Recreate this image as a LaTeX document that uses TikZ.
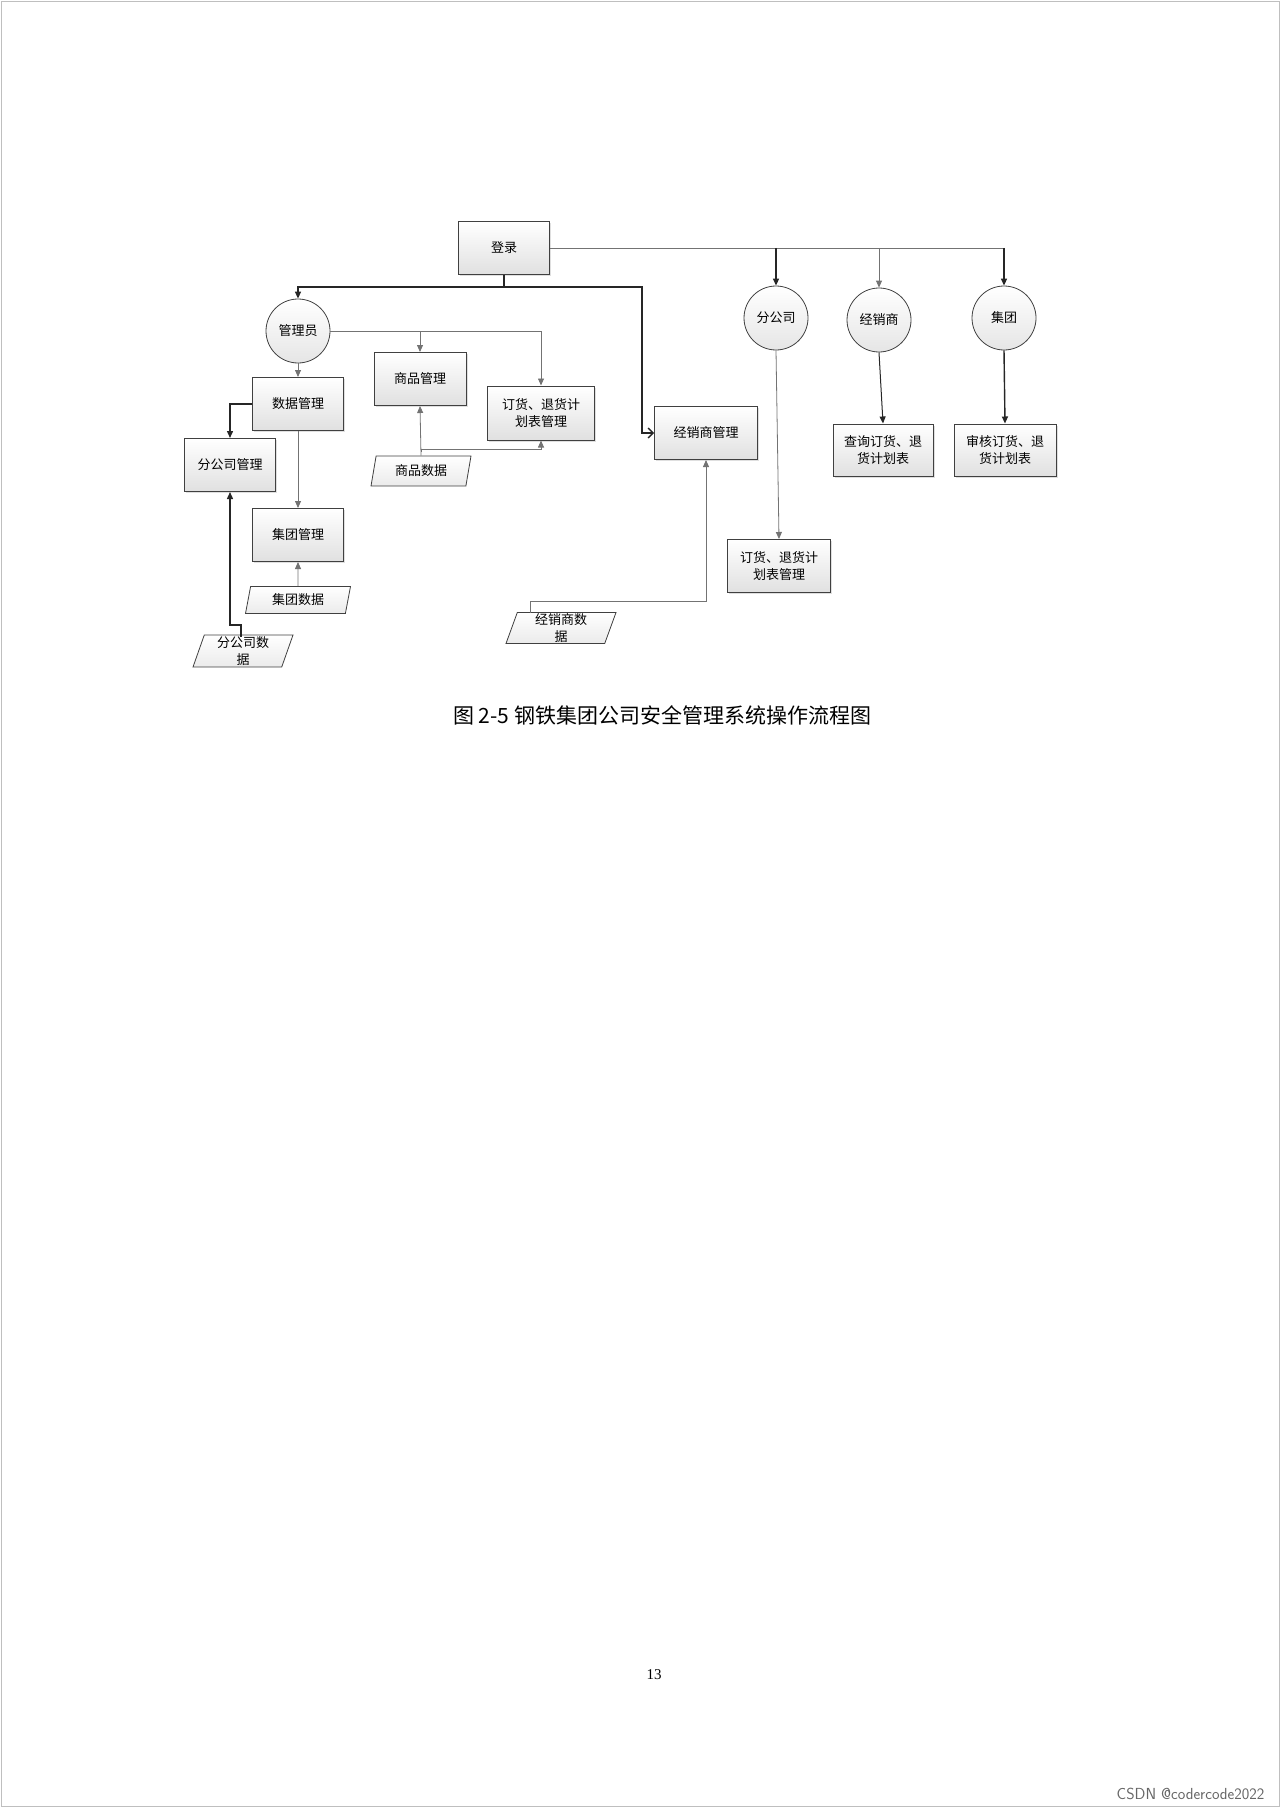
\documentclass[tikz,border=0pt]{standalone}
\usepackage{fontspec}
\setmainfont{Liberation Serif}
\newfontfamily\cjk{Noto Sans CJK SC}
\usetikzlibrary{arrows.meta,shapes.geometric,shadows}
\begin{document}
\begin{tikzpicture}[x=1pt,y=-1pt,
  proc/.style={draw=black!75,line width=1pt,top color=white,bottom color=black!12,font=\cjk\fontsize{13}{17}\selectfont,align=center,drop shadow={shadow xshift=1.5pt,shadow yshift=-1.5pt,opacity=0.25}},
  role/.style={circle,draw=black!75,line width=0.8pt,top color=white,bottom color=black!10,minimum size=64pt,inner sep=0pt,font=\cjk\fontsize{13}{17}\selectfont},
  datab/.style={trapezium,trapezium left angle=70,trapezium right angle=110,trapezium stretches body,draw=black!75,line width=0.8pt,top color=white,bottom color=black!8,font=\cjk\fontsize{13}{17}\selectfont,align=center,inner sep=1pt},
  ln/.style={draw=black!55,line width=0.8pt},
  dk/.style={draw=black!85,line width=1.4pt},
  arr/.style={-{Triangle[length=7pt,width=6pt]}}]
\useasboundingbox (0,0) rectangle (1280,1811);
\draw[black!25,line width=0.6pt] (1,1) rectangle (1279,1806);
% boxes
\node[proc,minimum width=91pt,minimum height=53pt] (login) at (504,248) {登录};
\node[role] (admin) at (298,331) {管理员};
\node[proc,minimum width=92pt,minimum height=53pt] (spgl) at (420,379) {商品管理};
\node[proc,minimum width=107pt,minimum height=54pt] (dh1) at (541,413) {订货、退货计\\划表管理};
\node[proc,minimum width=91pt,minimum height=53pt] (sjgl) at (298,404) {数据管理};
\node[proc,minimum width=91pt,minimum height=53pt] (fgsgl) at (230,465) {分公司管理};
\node[proc,minimum width=91pt,minimum height=53pt] (jtgl) at (298,535) {集团管理};
\node[datab,minimum width=105pt,minimum height=27pt] (jtsj) at (298,600) {集团数据};
\node[datab,minimum width=100pt,minimum height=32pt] (fgssj) at (243,651) {分公司数\\据};
\node[datab,minimum width=100pt,minimum height=30pt] (spsj) at (421,471) {商品数据};
\node[proc,minimum width=103pt,minimum height=53pt] (jxsgl) at (706,433) {经销商管理};
\node[datab,minimum width=110pt,minimum height=30pt] (jxssj) at (561,628) {经销商数\\据};
\node[role] (fgs) at (776,318) {分公司};
\node[role] (jxs) at (879,320) {经销商};
\node[role] (jt) at (1004,318) {集团};
\node[proc,minimum width=103pt,minimum height=53pt] (dh2) at (779,566) {订货、退货计\\划表管理};
\node[proc,minimum width=100pt,minimum height=52pt] (cx) at (883,450) {查询订货、退\\货计划表};
\node[proc,minimum width=102pt,minimum height=52pt] (sh) at (1005,450) {审核订货、退\\货计划表};
% connectors
\coordinate (j1) at (504,287);
\draw[dk,arr] (login.south) -- (j1) -| (admin.north);
\draw[dk,-{Straight Barb[length=5pt]}] (j1) -| (642,433) -- (jxsgl.west);
\draw[ln] (login.east) -- (1004,248);
\draw[dk,arr] (776,248) -- (fgs.north);
\draw[ln,arr] (879,248) -- (jxs.north);
\draw[dk,arr] (1004,248) -- (jt.north);
\draw[ln] (admin.east) -- (541,331);
\draw[ln,arr] (541,331) -- (dh1.north);
\draw[ln,arr] (420,331) -- (spgl.north);
\draw[ln,arr] (admin.south) -- (sjgl.north);
\draw[dk,arr] (sjgl.west) -| (fgsgl.north);
\draw[ln,arr] (sjgl.south) -- (jtgl.north);
\draw[ln,arr] (jtsj.north) -- (jtgl.south);
\draw[dk,arr] (241,637) -- (241,625) -| (fgsgl.south);
\draw[ln,arr] (spsj.north) -- (spgl.south);
\draw[ln,arr] (421,452) -- (421,449) -| (dh1.south);
\draw[ln,arr] (530,613) -- (530,601) -| (jxsgl.south);
\draw[ln,arr] (fgs.south) -- (dh2.north);
\draw[dk,line width=1pt,arr] (jxs.south) -- (cx.north);
\draw[dk,arr] (jt.south) -- (sh.north);
% texts
\node[font=\cjk\fontsize{21}{24}\selectfont] (cap) at (662,715) {图 2-5 钢铁集团公司安全管理系统操作流程图};
\node[font=\fontsize{15}{18}\selectfont] (pg) at (654,1675) {13};
\node[font=\fontfamily{lmss}\fontsize{16}{18}\selectfont,text=black!60,anchor=east] (wm) at (1268,1794) {\sffamily CSDN @codercode2022};
\end{tikzpicture}
\end{document}
